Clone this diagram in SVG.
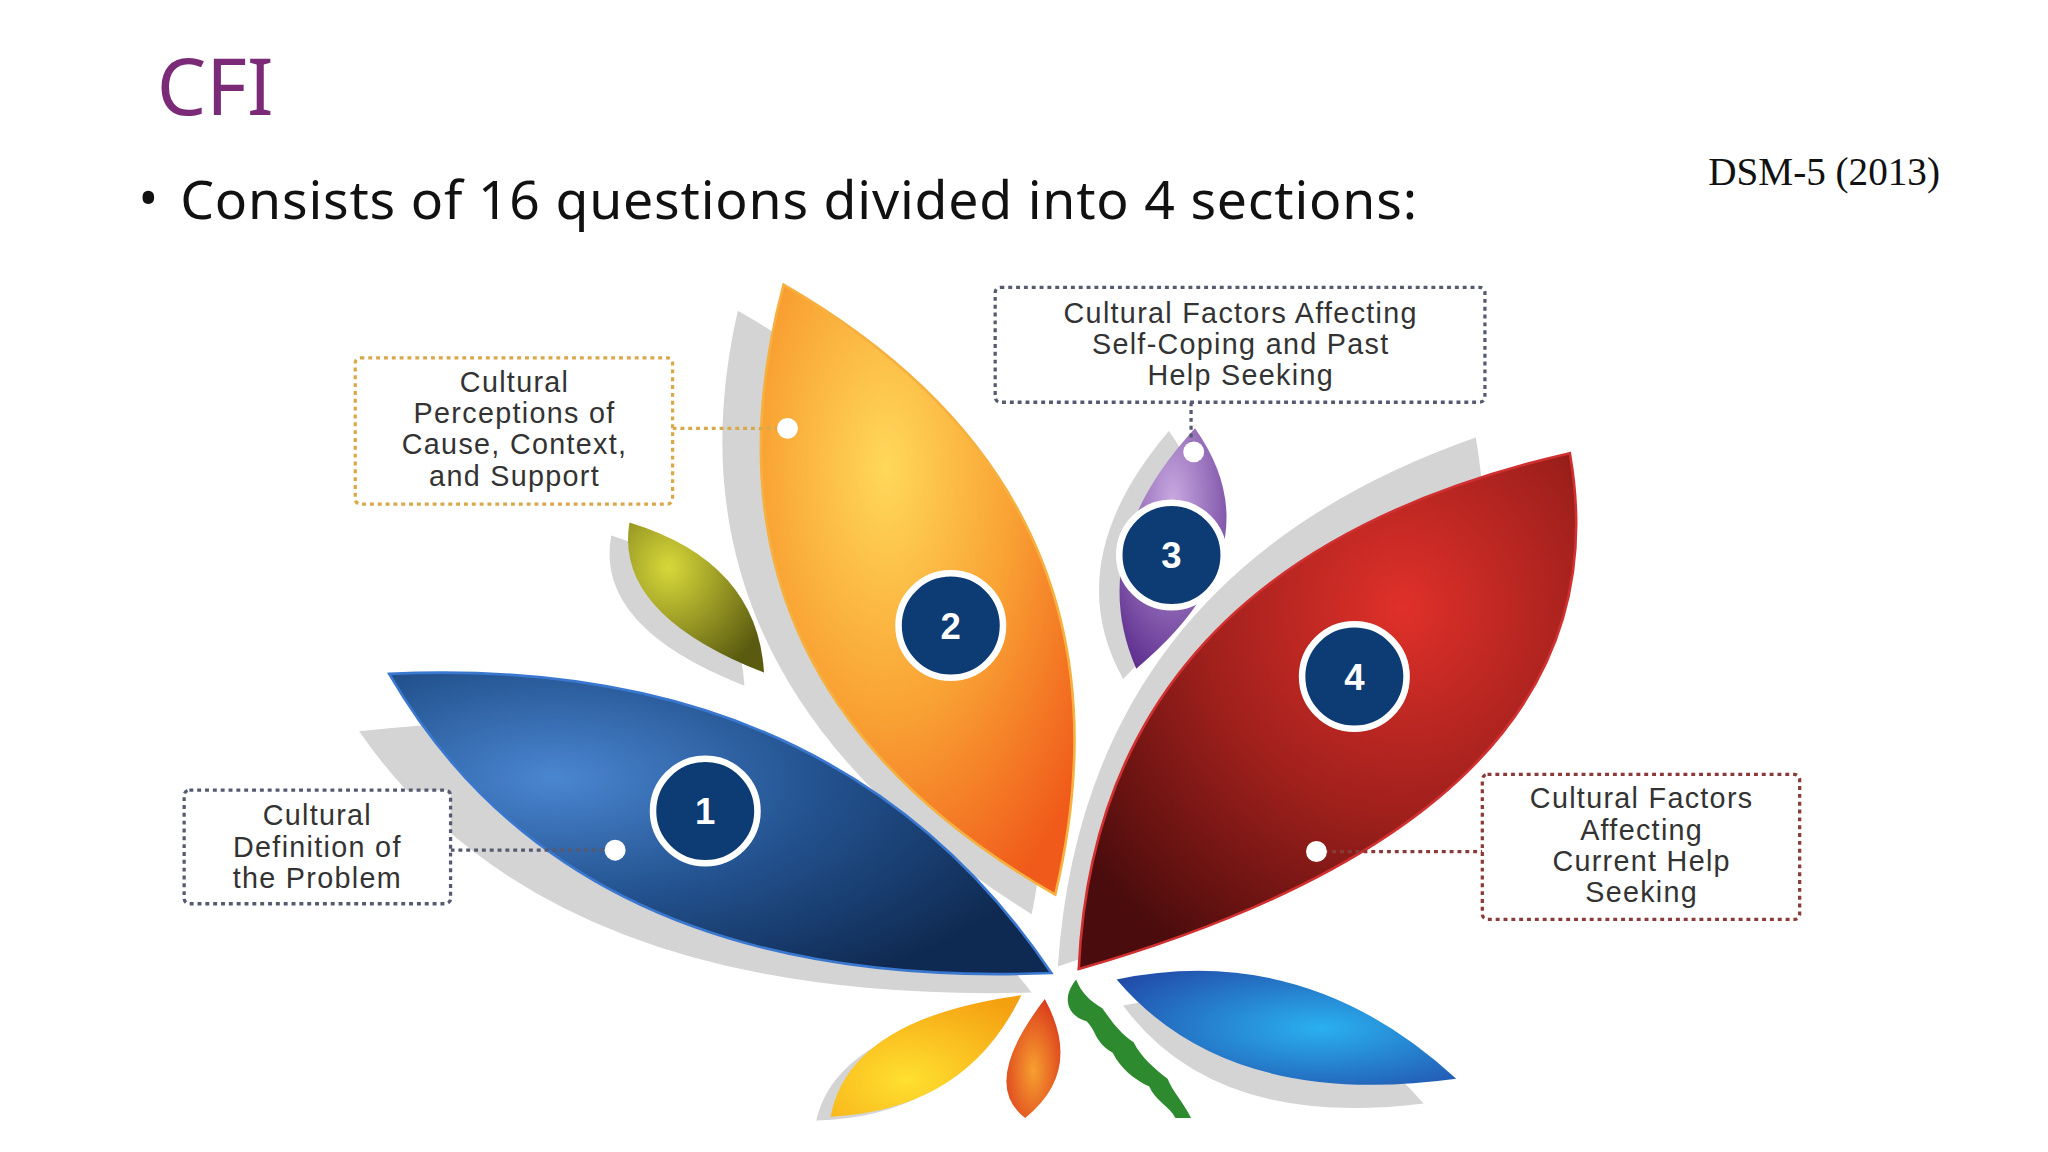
<svg xmlns="http://www.w3.org/2000/svg" width="2048" height="1152" viewBox="0 0 2048 1152">
<defs>
<radialGradient id="gBlue" cx="0.25" cy="0.35" r="0.8"><stop offset="0" stop-color="#4a86d0"/><stop offset="0.5" stop-color="#23528f"/><stop offset="1" stop-color="#0f2a52"/></radialGradient>
<radialGradient id="gOr" cx="0.4" cy="0.3" r="0.8"><stop offset="0" stop-color="#ffd85a"/><stop offset="0.5" stop-color="#f9a334"/><stop offset="1" stop-color="#f05a1a"/></radialGradient>
<radialGradient id="gOl" cx="0.3" cy="0.3" r="0.8"><stop offset="0" stop-color="#d8d83a"/><stop offset="1" stop-color="#5a5a10"/></radialGradient>
<radialGradient id="gPu" cx="0.5" cy="0.3" r="0.8"><stop offset="0" stop-color="#c8a8e0"/><stop offset="1" stop-color="#5a2a8c"/></radialGradient>
<radialGradient id="gRe" cx="0.65" cy="0.3" r="0.8"><stop offset="0" stop-color="#e0302a"/><stop offset="0.5" stop-color="#a0201c"/><stop offset="1" stop-color="#4a0c0c"/></radialGradient>
<radialGradient id="gYe" cx="0.4" cy="0.7" r="0.8"><stop offset="0" stop-color="#ffe030"/><stop offset="1" stop-color="#f5a010"/></radialGradient>
<radialGradient id="gFl" cx="0.5" cy="0.6" r="0.7"><stop offset="0" stop-color="#f7a030"/><stop offset="1" stop-color="#d8301a"/></radialGradient>
<radialGradient id="gBl2" cx="0.6" cy="0.5" r="0.8"><stop offset="0" stop-color="#2ab0f0"/><stop offset="1" stop-color="#2040a0"/></radialGradient>
<style>
.sh{fill:#d4d4d4}
.num{fill:#0d3b73;stroke:#fff;stroke-width:5}
.nt{font-family:"Liberation Sans",Arial,sans-serif;font-weight:bold;font-size:28px;fill:#fff;text-anchor:middle}
.bt{font-family:"Liberation Sans",Arial,sans-serif;font-size:22px;fill:#333;text-anchor:middle;letter-spacing:1px}
.box{fill:#fff;stroke-width:2.5;stroke-dasharray:3 3}
.dot{fill:#fff}
.cn{fill:none;stroke-width:2.5;stroke-dasharray:3 3}
</style>
</defs>
<rect width="2048" height="1152" fill="#fff"/>
<g transform="scale(1.306)">
<text x="120" y="88" font-family="Noto Sans, sans-serif" font-size="60" fill="#7b2a78">CFI</text>
<text x="106" y="166" font-family="Noto Sans, sans-serif" font-size="40" fill="#111">•</text>
<text x="138" y="168" font-family="Noto Sans, sans-serif" font-size="41" fill="#111" textLength="947" lengthAdjust="spacing">Consists of 16 questions divided into 4 sections:</text>
<text x="1308" y="142" font-family="Liberation Serif, serif" font-size="30" fill="#111">DSM-5 (2013)</text>

<g id="shadows">
<path class="sh" d="M275,560 Q600,520 790,760 Q420,770 275,560 Z"/>
<path class="sh" d="M565,238 Q500,520 790,700 Q850,400 565,238 Z"/>
<path class="sh" d="M468,410 Q455,480 570,525 Q565,440 468,410 Z"/>
<path class="sh" d="M895,330 Q810,430 860,520 Q960,420 895,330 Z"/>
<path class="sh" d="M1130,335 Q830,440 810,740 Q1180,620 1130,335 Z"/>
<path class="sh" d="M770,770 Q640,790 625,858 Q730,855 770,770 Z"/>
<path class="sh" d="M860,770 Q1000,740 1090,845 Q930,865 860,770 Z"/>
</g>
<g id="petal1"><path d="M298,516 Q640,500 805,745 Q440,760 298,516 Z" fill="url(#gBlue)" stroke="#3a78d0" stroke-width="2"/></g>
<g id="petal2"><path d="M600,218 Q520,520 808,685 Q880,380 600,218 Z" fill="url(#gOr)" stroke="#f6b040" stroke-width="2"/></g>
<g id="leafOlive"><path d="M482,400 Q470,470 585,515 Q580,430 482,400 Z" fill="url(#gOl)"/></g>
<g id="petal3"><path d="M915,328 Q830,420 870,512 Q980,420 915,328 Z" fill="url(#gPu)"/></g>
<g id="petal4"><path d="M1202,347 Q840,430 826,742 Q1250,620 1202,347 Z" fill="url(#gRe)" stroke="#d03030" stroke-width="2"/></g>
<g id="bottom">
<path d="M782,762 Q650,780 636,855 Q740,850 782,762 Z" fill="url(#gYe)"/>
<path d="M800,765 Q750,830 785,856 Q830,820 800,765 Z" fill="url(#gFl)"/>
<path d="M824,750 C812,765 818,778 832,782 C840,790 838,798 852,806 C858,818 868,826 880,832 C884,842 896,848 900,856 L912,856 C906,844 898,836 894,826 C884,818 874,810 868,798 C856,790 850,780 844,772 C834,766 828,760 824,750 Z" fill="#2e8a2e"/>
<path d="M855,750 Q1000,720 1115,826 Q940,850 855,750 Z" fill="url(#gBl2)"/>
</g>

<g id="connectors">
<line class="cn" stroke="#d9a84a" x1="515" y1="328" x2="603" y2="328"/>
<line class="cn" stroke="#555a70" x1="912" y1="308" x2="912" y2="346"/>
<line class="cn" stroke="#555a70" x1="345" y1="651" x2="471" y2="651"/>
<line class="cn" stroke="#8b3a3a" x1="1008" y1="652" x2="1135" y2="652"/>
</g>
<g id="dots">
<circle class="dot" cx="603" cy="328" r="8"/>
<circle class="dot" cx="914" cy="346" r="8"/>
<circle class="dot" cx="471" cy="651" r="8"/>
<circle class="dot" cx="1008" cy="652" r="8"/>
</g>
<g id="n1"><circle class="num" cx="540" cy="621" r="40"/><text class="nt" x="540" y="631">1</text></g>
<g id="n2"><circle class="num" cx="728" cy="479" r="40"/><text class="nt" x="728" y="489">2</text></g>
<g id="n3"><circle class="num" cx="897" cy="425" r="40"/><text class="nt" x="897" y="435">3</text></g>
<g id="n4"><circle class="num" cx="1037" cy="518" r="40"/><text class="nt" x="1037" y="528">4</text></g>

<g id="boxA"><rect class="box" stroke="#d9a84a" x="272" y="274" width="243" height="112" rx="4"/>
<text class="bt" x="394" y="300">Cultural</text><text class="bt" x="394" y="324">Perceptions of</text><text class="bt" x="394" y="348">Cause, Context,</text><text class="bt" x="394" y="372">and Support</text></g>
<g id="boxB"><rect class="box" stroke="#555a70" x="762" y="220" width="375" height="88" rx="4"/>
<text class="bt" x="950" y="247">Cultural Factors Affecting</text><text class="bt" x="950" y="271">Self-Coping and Past</text><text class="bt" x="950" y="295">Help Seeking</text></g>
<g id="boxC"><rect class="box" stroke="#555a70" x="141" y="605" width="204" height="87" rx="4"/>
<text class="bt" x="243" y="632">Cultural</text><text class="bt" x="243" y="656">Definition of</text><text class="bt" x="243" y="680">the Problem</text></g>
<g id="boxD"><rect class="box" stroke="#8b3a3a" x="1135" y="593" width="243" height="111" rx="4"/>
<text class="bt" x="1257" y="619">Cultural Factors</text><text class="bt" x="1257" y="643">Affecting</text><text class="bt" x="1257" y="667">Current Help</text><text class="bt" x="1257" y="691">Seeking</text></g>
</g>
</svg>
